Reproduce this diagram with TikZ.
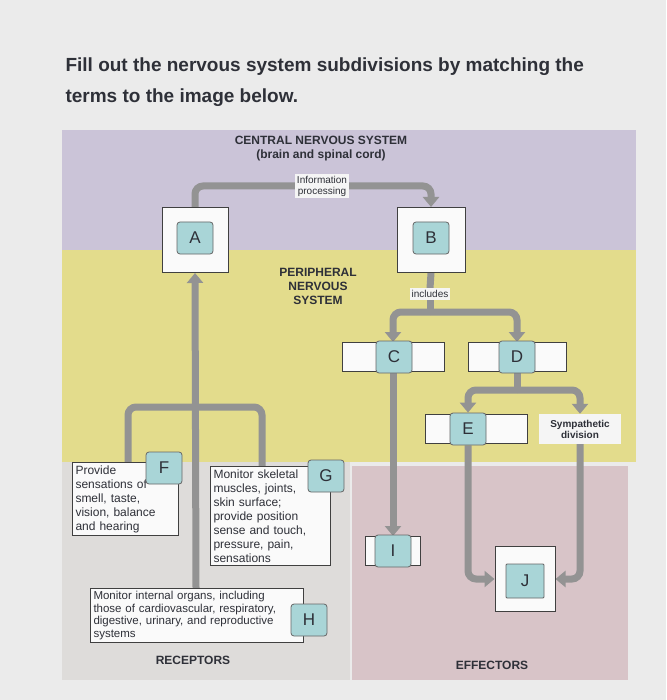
\documentclass[tikz,border=0pt]{standalone}
\usepackage{fontspec}
\setmainfont{Liberation Sans}
\usetikzlibrary{arrows.meta,calc}
\pgfdeclarelayer{bg}\pgfdeclarelayer{conn}
\pgfsetlayers{bg,conn,main}
\definecolor{pagebg}{HTML}{EBEBEB}
\definecolor{lav}{HTML}{CBC4D8}
\definecolor{yel}{HTML}{E3DC8C}
\definecolor{lgr}{HTML}{DEDCDA}
\definecolor{pnk}{HTML}{D8C4C8}
\definecolor{teal}{HTML}{A9D5D7}
\definecolor{arrg}{HTML}{939393}
\definecolor{txt}{HTML}{2E3038}
\begin{document}
\begin{tikzpicture}[x=1pt,y=-1pt,
  box/.style={draw=black!75,line width=1pt,fill=white!96!gray,inner sep=3pt,text=txt},
  badge/.style={draw=black!60,line width=0.8pt,fill=teal,rounded corners=3pt,font=\fontsize{17}{17}\selectfont,text=txt,minimum width=36pt,minimum height=32pt},
  bar/.style={box,minimum height=29pt},
  lab/.style={fill=white!92!gray,font=\fontsize{10}{11}\selectfont\bfseries,text=txt,align=center,inner sep=2pt},
  desc/.style={font=\fontsize{12}{14}\selectfont,text=txt,align=left},
  arr/.style={draw=arrg,line width=7pt,rounded corners=8pt,-{Triangle[length=10pt,width=16pt]}},
  ln/.style={draw=arrg,line width=7pt,rounded corners=8pt},
  hd/.style={font=\fontsize{12}{14}\selectfont\bfseries,text=txt,align=center}]
\useasboundingbox (0,0) rectangle (666,700);
\begin{pgfonlayer}{bg}
\fill[pagebg] (0,0) rectangle (666,700);
\fill[lav] (62,130) rectangle (636,250);
\fill[yel] (62,250) rectangle (636,462);
\fill[lgr] (62,462) rectangle (350,680);
\fill[pnk] (352,466) rectangle (628,680);
\end{pgfonlayer}
\node[anchor=west,font=\fontsize{19}{22}\selectfont\bfseries,text=txt] (t1) at (62,67) {Fill out the nervous system subdivisions by matching the};
\node[anchor=west,font=\fontsize{19}{22}\selectfont\bfseries,text=txt] (t2) at (62,98) {terms to the image below.};
\node[hd] (cns) at (321,149) {CENTRAL NERVOUS SYSTEM\\(brain and spinal cord)};
\node[hd] (pns) at (318,286) {PERIPHERAL\\NERVOUS\\SYSTEM};
\node[lab,font=\fontsize{10}{11}\selectfont] (info) at (322,186) {Information\\processing};
% boxes
\node[box,minimum width=66pt,minimum height=65pt] (A) at (195,240) {};
\node[badge] (Ab) at (195,238) {A};
\node[box,minimum width=68pt,minimum height=65pt] (B) at (431,240) {};
\node[badge] (Bb) at (431,238) {B};
\node[lab,font=\fontsize{10}{11}\selectfont] (inc) at (430,294) {includes};
\node[bar,minimum width=102pt] (C) at (393,357) {};
\node[badge] (Cb) at (394,357) {C};
\node[bar,minimum width=98pt] (D) at (517,357) {};
\node[badge] (Db) at (517,357) {D};
\node[bar,minimum width=102pt] (E) at (476,429) {};
\node[badge] (Eb) at (468,429) {E};
\node[lab,minimum width=82pt,minimum height=30pt] (S) at (580,429) {Sympathetic\\division};
\node[bar,minimum width=55pt] (I) at (393,551) {};
\node[badge] (Ib) at (393,551) {I};
\node[box,minimum width=60pt,minimum height=65pt] (J) at (525,579) {};
\node[badge,minimum width=38pt,minimum height=34pt,rounded corners=1pt] (Jb) at (525,581) {J};
\node[box,desc,anchor=north west,text width=100pt] (F) at (72,462) {Provide\\sensations of\\smell, taste,\\vision, balance\\and hearing};
\node[badge] (Fb) at (164,468) {F};
\node[box,desc,anchor=north west,text width=114pt] (G) at (210,466) {Monitor skeletal\\muscles, joints,\\skin surface;\\provide position\\sense and touch,\\pressure, pain,\\sensations};
\node[badge] (Gb) at (326,476) {G};
\node[box,desc,anchor=north west,text width=207pt,font=\fontsize{11.5}{12.5}\selectfont,inner sep=3pt] (H) at (90,588) {Monitor internal organs, including\\those of cardiovascular, respiratory,\\digestive, urinary, and reproductive\\systems};
\node[badge] (Hb) at (309,620) {H};
\node[hd] (rec) at (193,660) {RECEPTORS};
\node[hd] (eff) at (492,665) {EFFECTORS};
% connector coordinates
\coordinate (br1) at (430,312);
\coordinate (br2) at (517,390);
\coordinate (lb) at (196,407);
\coordinate (gtop) at (262,466);
\coordinate (ftop) at (128,462);
\coordinate (hup) at (196,588);
\begin{pgfonlayer}{conn}
\draw[arr] (A.north) |- (info.west) -- (info.east) -| (B.north);
\draw[ln] (B.south) -- (inc.north);
\draw[ln] (inc.south) -- (br1);
\draw[arr] (br1) -| (C.north);
\draw[arr] (br1) -| (D.north);
\draw[ln] (D.south) -- (br2);
\draw[arr] (br2) -| (Eb.north);
\draw[arr] (br2) -| (S.north);
\draw[arr] (C.south) -- (I.north);
\draw[arr] (Eb.south) |- (J.west);
\draw[arr] (S.south) |- (J.east);
\draw[arr] (hup) -- (A.south);
\draw[ln] (lb) -| (ftop);
\draw[ln] (lb) -| (gtop);
\end{pgfonlayer}
\end{tikzpicture}
\end{document}
